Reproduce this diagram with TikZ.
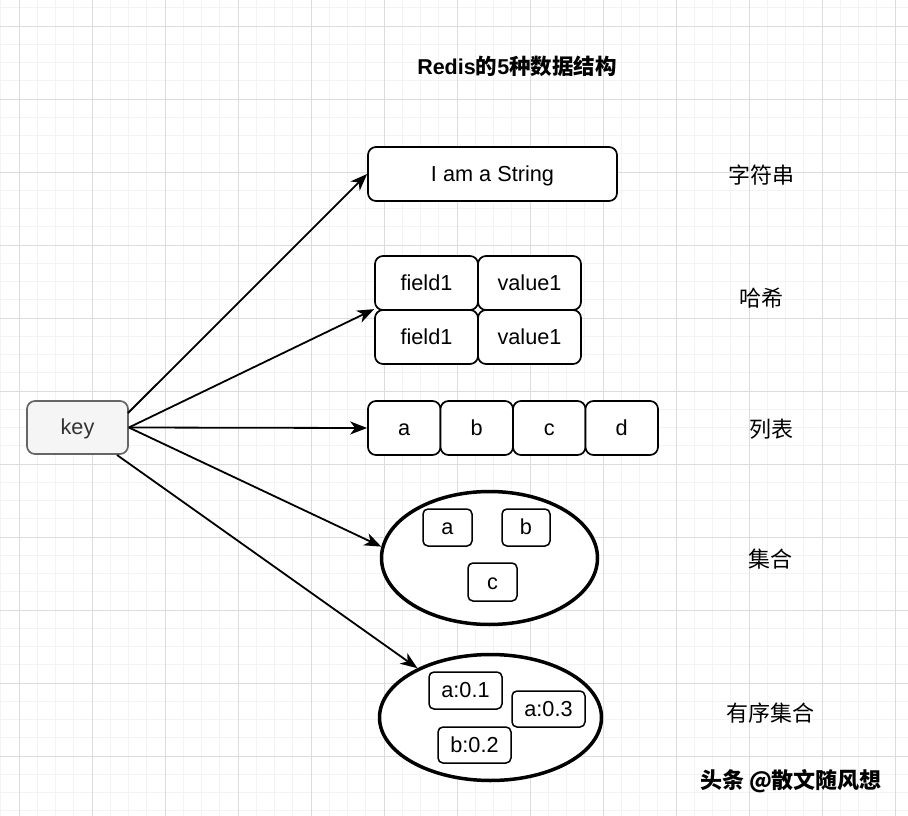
\documentclass[tikz,border=0pt]{standalone}
\usepackage{fontspec}
\setmainfont{Liberation Sans}
\newfontfamily\cjk{Noto Sans CJK SC}
\usetikzlibrary{shapes.geometric,arrows.meta}
\definecolor{minorc}{HTML}{F3F3F3}
\definecolor{majorc}{HTML}{DCDCDC}
\definecolor{keyfill}{HTML}{F5F5F5}
\definecolor{keydraw}{HTML}{666666}
\definecolor{keytext}{HTML}{333333}
\begin{document}
\begin{tikzpicture}[x=1pt,y=-1pt,
  txt/.style={font=\fontsize{21.7}{26}\selectfont, text height=17pt, text depth=3pt},
  cell/.style={txt, draw, fill=white, line width=1.7pt, rounded corners=8pt, inner sep=0pt, minimum height=54pt},
  small/.style={txt, draw, fill=white, line width=1.5pt, rounded corners=5pt, inner sep=0pt},
  setshape/.style={ellipse, draw, fill=white, line width=3.5pt, inner sep=0pt},
  lbl/.style={font=\cjk\fontsize{22}{26}\selectfont},
  arr/.style={line width=1.8pt, -{Stealth[length=17pt,width=13pt,inset=5pt]}}
]
\useasboundingbox (0,0) rectangle (908,816);
\fill[white] (0,0) rectangle (908,816);
% grid
\begin{scope}
\clip (0,0) rectangle (908,816);
\draw[minorc, line width=0.8pt, shift={(0.75,7.75)}] (-40,-40) grid[step=18.25pt] (950,860);
\draw[majorc, line width=0.9pt, shift={(19,26)}] (-80,-80) grid[step=73pt] (950,860);
\end{scope}

% title
\node[font=\bfseries\fontsize{21.5}{26}\selectfont] (title) at (517,66)
  {Redis{\cjk 的}5{\cjk 种数据结构}};

% key
\node[txt, draw=keydraw, fill=keyfill, text=keytext, line width=1.7pt, rounded corners=8pt,
  inner sep=0pt, minimum width=101pt, minimum height=53pt] (key) at (77.5,427.5) {key};

% string
\node[cell, minimum width=249pt] (str) at (492.5,174) {I am a String};

% hash
\node[cell, minimum width=103pt] (h1) at (426.5,283) {field1};
\node[cell, minimum width=103pt] (h2) at (529.5,283) {value1};
\node[cell, minimum width=103pt] (h3) at (426.5,337) {field1};
\node[cell, minimum width=103pt] (h4) at (529.5,337) {value1};

% list
\node[cell, minimum width=72.5pt] (l1) at (404.25,428) {a};
\node[cell, minimum width=72.5pt] (l2) at (476.75,428) {b};
\node[cell, minimum width=72.5pt] (l3) at (549.25,428) {c};
\node[cell, minimum width=72.5pt] (l4) at (621.75,428) {d};

% set
\node[setshape, minimum width=216pt, minimum height=133pt] (set) at (489.5,558) {};
\node[small, minimum width=49pt, minimum height=37pt] (sa) at (447.5,527.5) {a};
\node[small, minimum width=48pt, minimum height=37pt] (sb) at (526,527.5) {b};
\node[small, minimum width=49pt, minimum height=38pt] (sc) at (492.5,582) {c};

% sorted set
\node[setshape, minimum width=222pt, minimum height=126pt] (zset) at (490.5,717.5) {};
\node[small, minimum width=73pt, minimum height=37pt] (za1) at (465.5,690.5) {a:0.1};
\node[small, minimum width=73pt, minimum height=36pt] (za3) at (548.5,709) {a:0.3};
\node[small, minimum width=73pt, minimum height=36pt] (zb2) at (474.5,745) {b:0.2};

% labels
\node[lbl] (lstr) at (761,175) {字符串};
\node[lbl] (lhash) at (761,298) {哈希};
\node[lbl] (llist) at (771,429) {列表};
\node[lbl] (lset) at (770,559) {集合};
\node[lbl] (lzset) at (770,713) {有序集合};

% arrows
\coordinate (ks) at (128,413);
\coordinate (kb) at (117,455);
\draw[arr] (ks) -- (str.west);
\draw[arr] (key.east) -- (h3.north west);
\draw[arr] (key.east) -- (l1.west);
\draw[arr] (key.east) -- (set.174);
\draw[arr] (kb) -- (zset.146);

% watermark
\node[font=\cjk\bfseries\fontsize{22}{26}\selectfont] (wm) at (791,781) {头条 @散文随风想};
\end{tikzpicture}
\end{document}
